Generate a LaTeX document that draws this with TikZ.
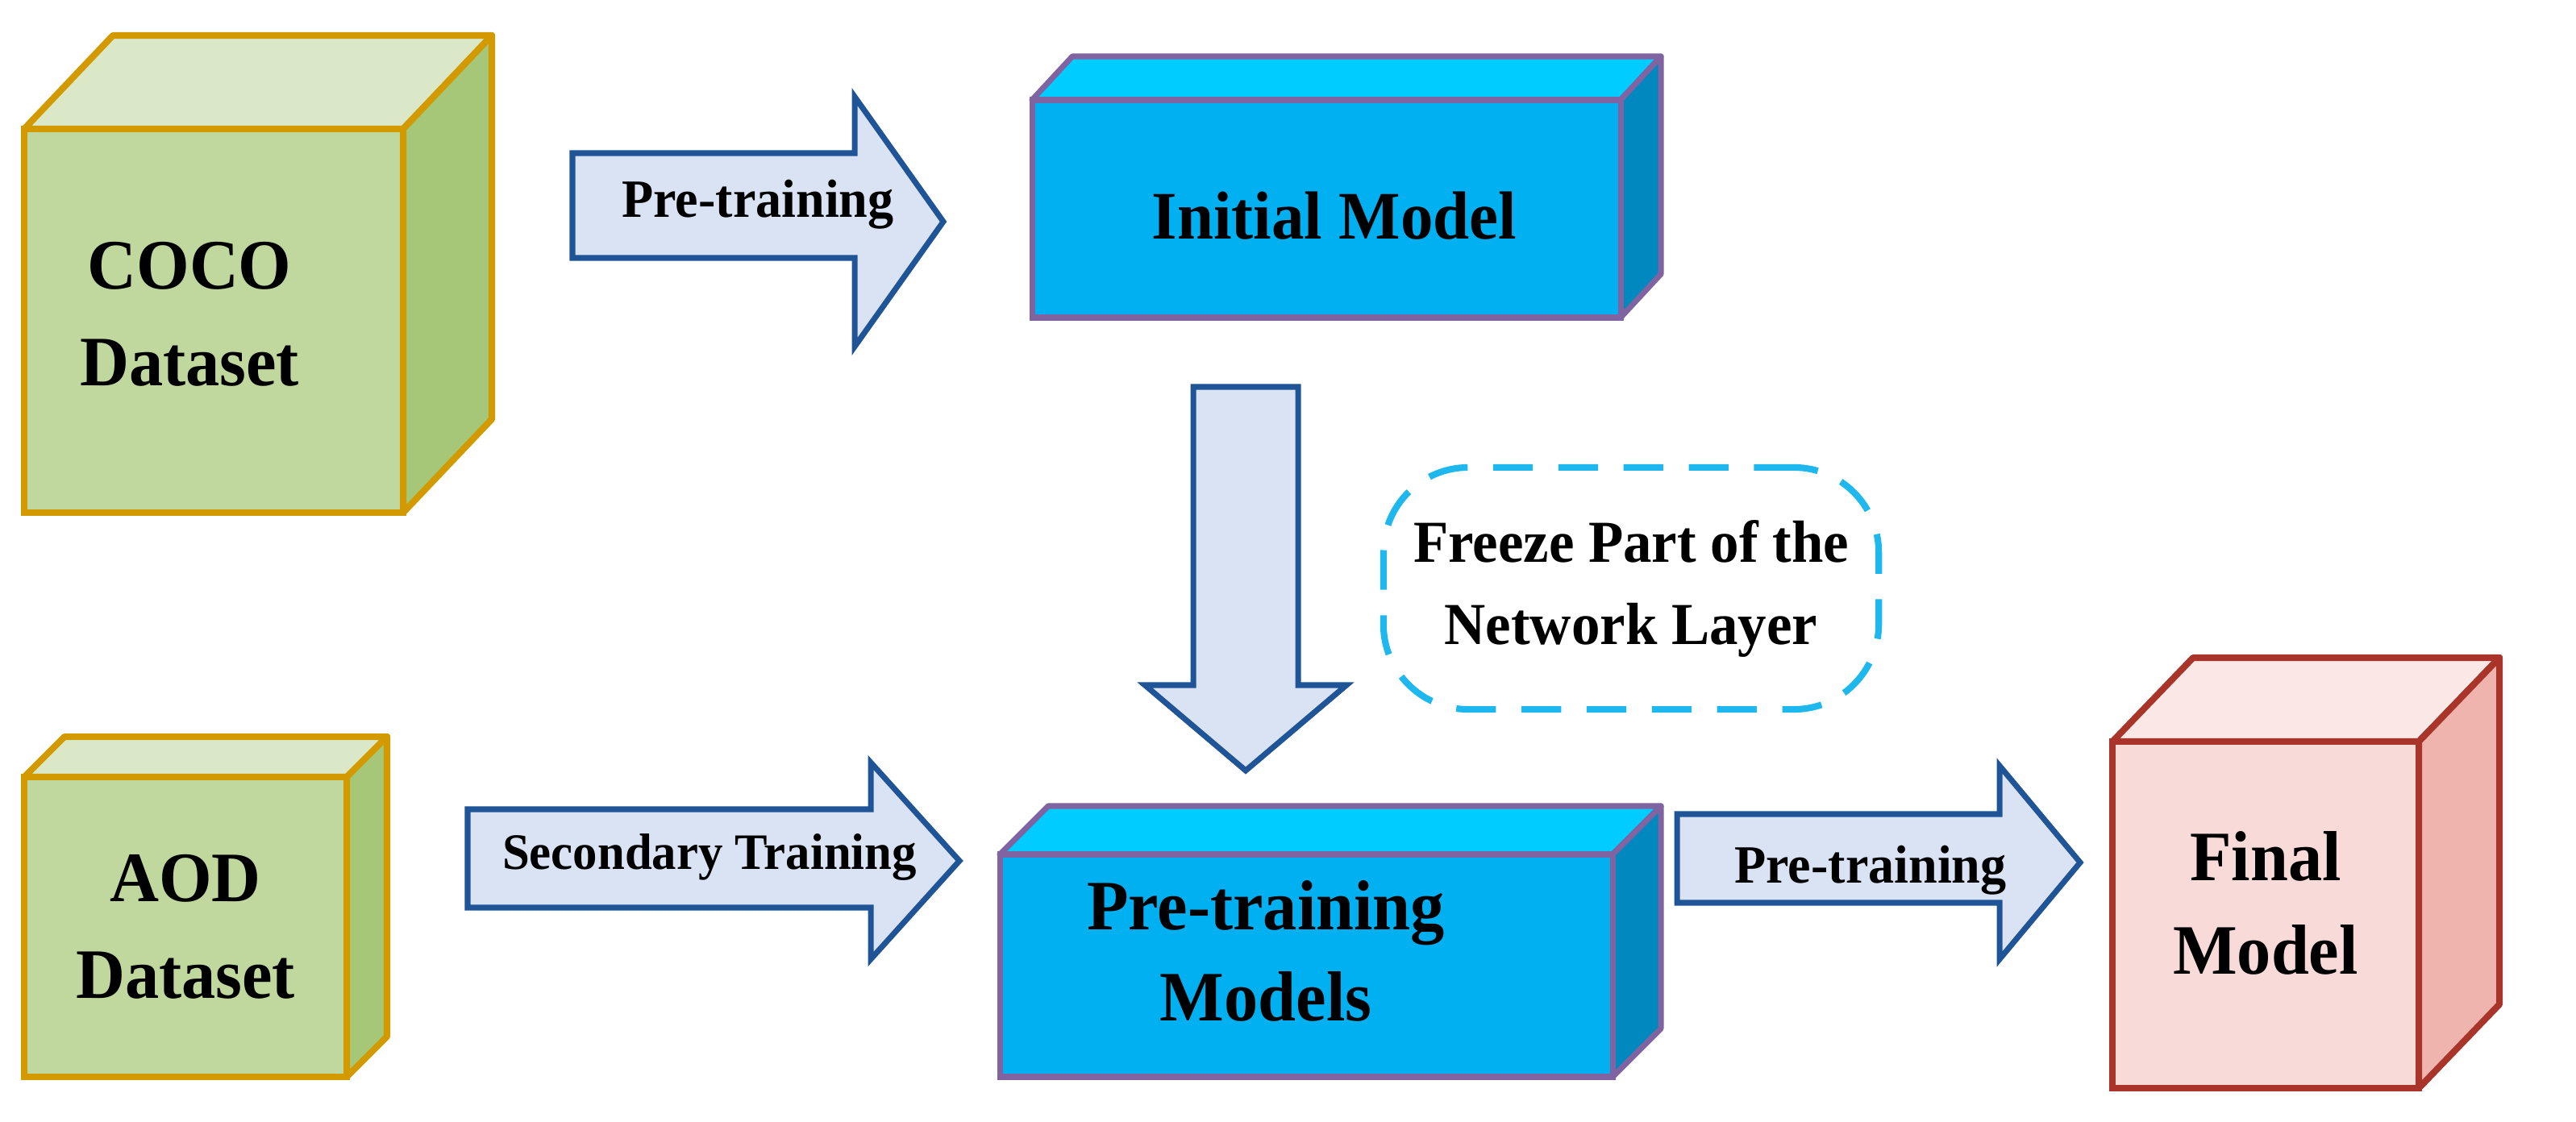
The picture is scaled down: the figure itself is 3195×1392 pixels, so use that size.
\documentclass[tikz,border=0pt]{standalone}
\usepackage{fontspec}
\setmainfont[FakeStretch=0.96]{Liberation Serif}
\definecolor{gF}{HTML}{C0D89E}\definecolor{gR}{HTML}{A6C678}\definecolor{gT}{HTML}{DBE8C8}\definecolor{gB}{HTML}{D39A00}
\definecolor{bF}{HTML}{00B0F0}\definecolor{bR}{HTML}{0088BF}\definecolor{bT}{HTML}{00CCFF}\definecolor{bB}{HTML}{8064A2}
\definecolor{rF}{HTML}{F8DAD8}\definecolor{rR}{HTML}{F0B4AE}\definecolor{rT}{HTML}{FBE8E6}\definecolor{rB}{HTML}{A9352A}
\definecolor{aF}{HTML}{DAE3F3}\definecolor{aB}{HTML}{1F5597}\definecolor{dB}{HTML}{1FB8EE}
\newcommand\mycube[9]{%
 \draw[#7,fill=#8,line join=round] (#1,#2)--(#1+#5,#2-#6)--(#3+#5,#2-#6)--(#3,#2)--cycle;
 \draw[#7,fill=#9,line join=round] (#3,#2)--(#3+#5,#2-#6)--(#3+#5,#4-#6)--(#3,#4)--cycle;}
\newcommand\myarrow[7]{%
 \draw[arr] (#1,#2)--(#4,#2)--(#4,#5)--(#7,{(#5+#6)/2})--(#4,#6)--(#4,#3)--(#1,#3)--cycle;}
\tikzset{arr/.style={draw=aB,fill=aF,line width=2pt,line join=miter},
 lbl/.style={font=\bfseries,align=center,inner sep=0pt}}
\begin{document}
\begin{tikzpicture}[x=0.01cm,y=-0.01cm]
\useasboundingbox (0,0) rectangle (3195,1392);
% COCO
\mycube{30}{160}{500}{636}{110}{116}{draw=gB,line width=2.3pt}{gT}{gR}
\draw[draw=gB,fill=gF,line width=2.3pt] (30,160) rectangle (500,636);
\node[lbl,font=\bfseries\fontsize{25}{34}\selectfont] (coco) at (235,390) {COCO\\Dataset};
% AOD
\mycube{30}{964}{430}{1336}{50}{50}{draw=gB,line width=2.3pt}{gT}{gR}
\draw[draw=gB,fill=gF,line width=2.3pt] (30,964) rectangle (430,1336);
\node[lbl,font=\bfseries\fontsize{25}{34}\selectfont] (aod) at (230,1150) {AOD\\Dataset};
% Initial model
\mycube{1280}{124}{2010}{394}{50}{54}{draw=bB,line width=2pt}{bT}{bR}
\draw[draw=bB,fill=bF,line width=2pt] (1280,124) rectangle (2010,394);
\node[lbl,font=\bfseries\fontsize{24}{28}\selectfont] (init) at (1655,268) {Initial Model};
% Pre-training models
\mycube{1240}{1060}{2000}{1336}{60}{60}{draw=bB,line width=2pt}{bT}{bR}
\draw[draw=bB,fill=bF,line width=2pt] (1240,1060) rectangle (2000,1336);
\node[lbl,font=\bfseries\fontsize{25}{32}\selectfont] (ptm) at (1570,1180) {Pre-training\\Models};
% Final model
\mycube{2620}{920}{3000}{1350}{100}{104}{draw=rB,line width=2.3pt}{rT}{rR}
\draw[draw=rB,fill=rF,line width=2.3pt] (2620,920) rectangle (3000,1350);
\node[lbl,font=\bfseries\fontsize{25}{33}\selectfont] (final) at (2810,1120) {Final\\Model};
% arrows
\myarrow{710}{190}{320}{1060}{120}{430}{1170}
\node[lbl,font=\bfseries\fontsize{19}{22}\selectfont] (a1) at (940,254) {Pre-training};
\myarrow{580}{1004}{1126}{1080}{946}{1190}{1190}
\node[lbl,font=\bfseries\fontsize{18}{22}\selectfont] (a2) at (880,1064) {Secondary Training};
\myarrow{2080}{1010}{1120}{2480}{950}{1190}{2580}
\node[lbl,font=\bfseries\fontsize{19}{22}\selectfont] (a3) at (2320,1080) {Pre-training};
\draw[arr] (1480,480)--(1610,480)--(1610,850)--(1670,850)--(1545,956)--(1420,850)--(1480,850)--cycle;
% freeze
\node[draw=dB,line width=2.3pt,dash pattern=on 14pt off 9pt,rounded corners=30pt,minimum width=6.14cm,minimum height=3cm,lbl,font=\bfseries\fontsize{21}{29}\selectfont] (fr) at (2023,730) {Freeze Part of the\\Network Layer};
\end{tikzpicture}
\end{document}
